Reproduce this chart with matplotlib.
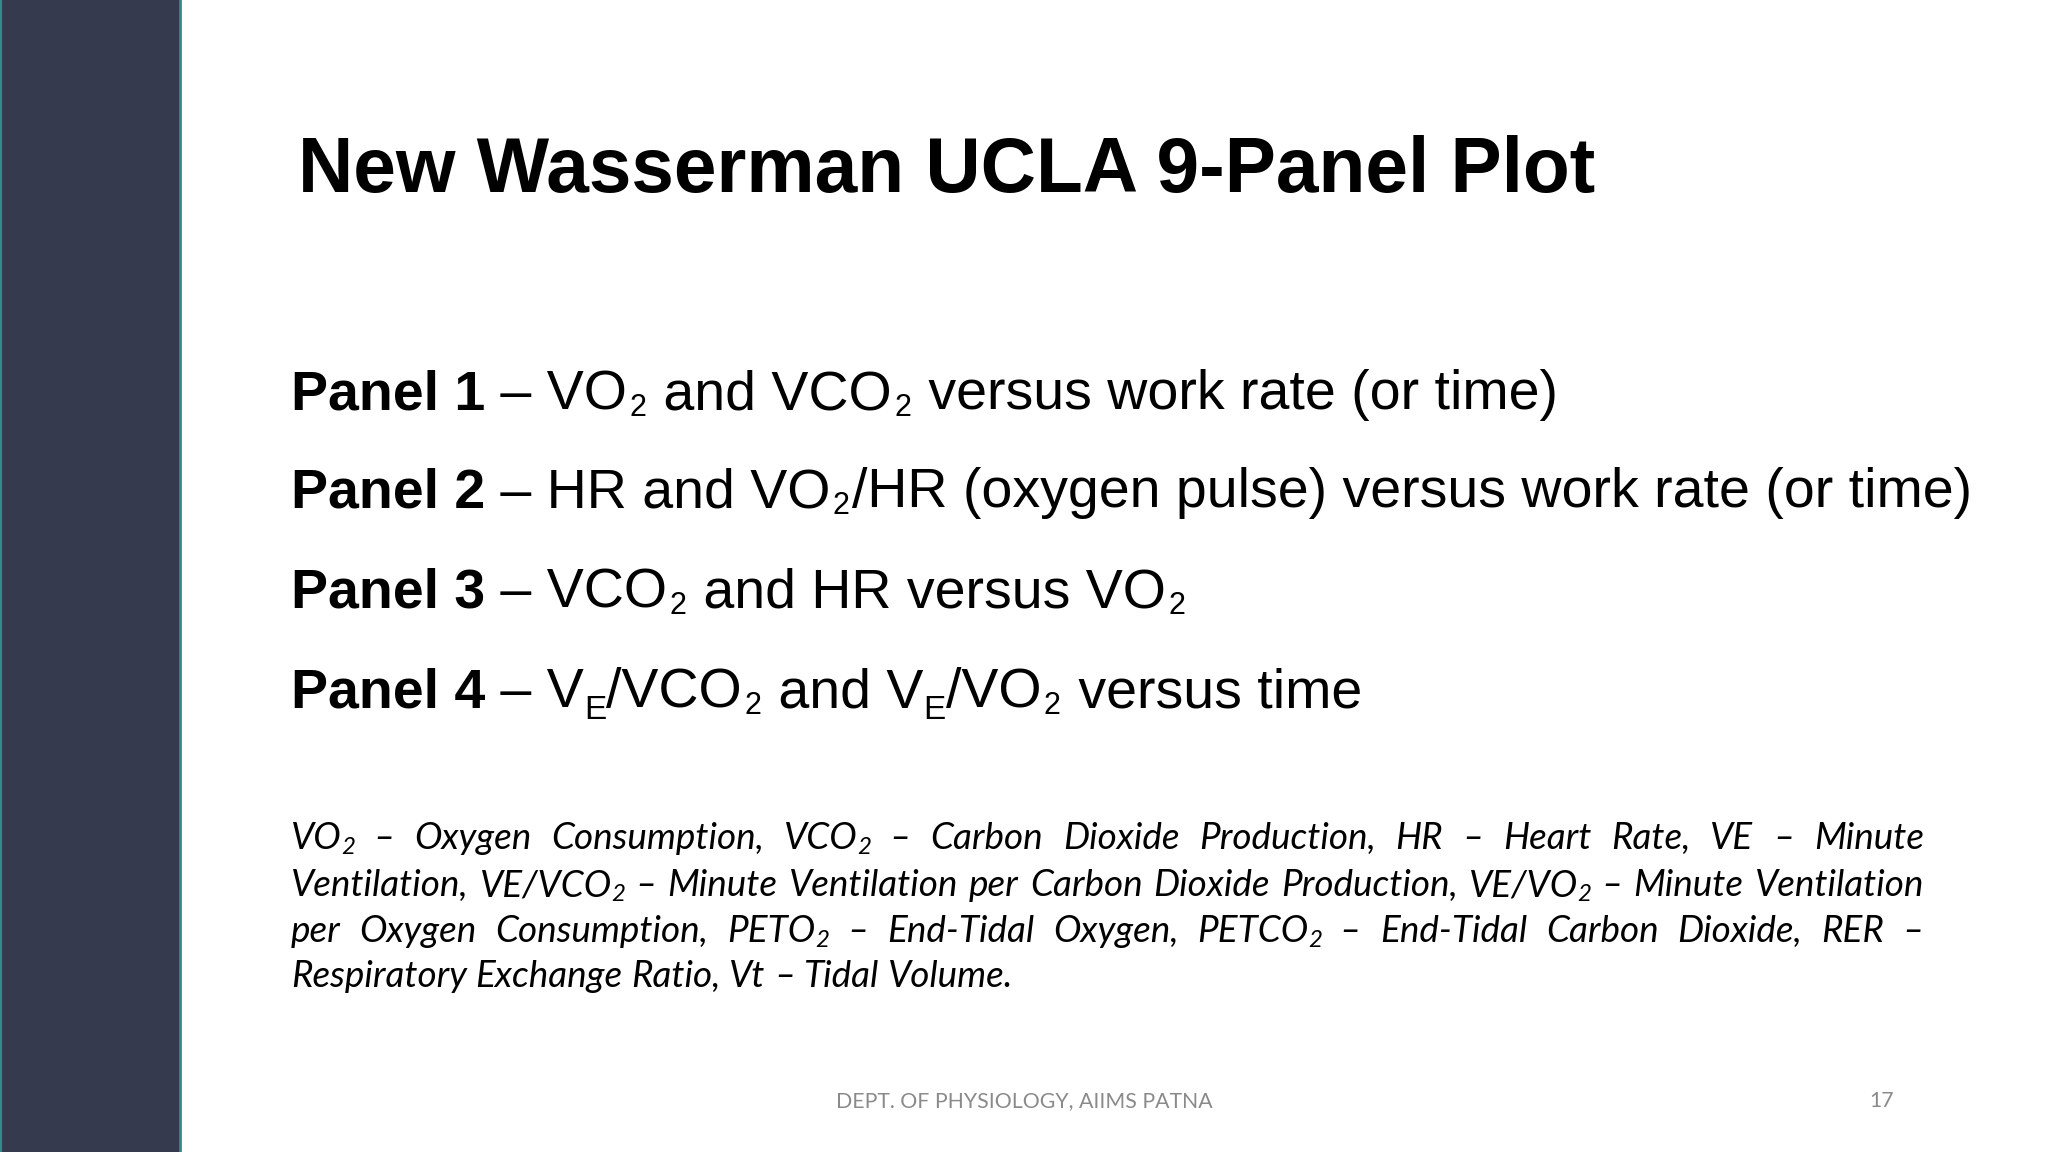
import matplotlib
matplotlib.use("Agg")
import matplotlib.pyplot as plt

# slide content
title = "New Wasserman UCLA 9-Panel Plot"
panel_labels = ["Panel 1", "Panel 2", "Panel 3", "Panel 4"]
panel_texts = [
    " \u2013 VO_2 and VCO_2 versus work rate (or time)",
    " \u2013 HR and VO_2/HR (oxygen pulse) versus work rate (or time)",
    " \u2013 VCO_2 and HR versus VO_2",
    " \u2013 V_E/VCO_2 and V_E/VO_2 versus time",
]
footnote_lines = [
    "VO_2 \u2013 Oxygen Consumption, VCO_2 \u2013 Carbon Dioxide Production, HR \u2013 Heart Rate, VE \u2013 Minute",
    "Ventilation, VE/VCO_2 \u2013 Minute Ventilation per Carbon Dioxide Production, VE/VO_2 \u2013 Minute Ventilation",
    "per Oxygen Consumption, PETO_2 \u2013 End-Tidal Oxygen, PETCO_2 \u2013 End-Tidal Carbon Dioxide, RER \u2013",
    "Respiratory Exchange Ratio, Vt \u2013 Tidal Volume.",
]
footer_text = "DEPT. OF PHYSIOLOGY, AIIMS PATNA"
page_number = "17"

W, H = 2048, 1152
fig = plt.figure(figsize=(W / 100, H / 100), dpi=100)
ax = fig.add_axes([0, 0, 1, 1])
ax.set_xlim(0, W)
ax.set_ylim(H, 0)
ax.axis("off")
renderer = fig.canvas.get_renderer()

# left navy band with thin teal edge
ax.add_patch(plt.Rectangle((0, 0), 181, H, facecolor="#353a4f", edgecolor="none"))
ax.plot([180, 180], [0, H], color="#2f8c86", lw=2)
ax.plot([0.5, 0.5], [0, H], color="#2f8c86", lw=1.5)


def text_width(s, **kw):
    t = ax.text(0, 0, "|" + s + "|", **kw)
    w1 = t.get_window_extent(renderer).width
    t.set_text("||")
    w0 = t.get_window_extent(renderer).width
    t.remove()
    return w1 - w0


def split_sub(s):
    # "VO_2" -> [("VO", False), ("2", True)]
    parts, buf, i = [], "", 0
    while i < len(s):
        if s[i] == "_" and i + 1 < len(s):
            if buf:
                parts.append((buf, False))
                buf = ""
            parts.append((s[i + 1], True))
            i += 2
        else:
            buf += s[i]
            i += 1
    if buf:
        parts.append((buf, False))
    return parts


def draw_runs(x, y, s, size, draw=True, digit_scale=0.55, digit_pad=0.04, **kw):
    px = size * 100 / 72
    for piece, sub in split_sub(s):
        if sub and piece.isalpha():
            fs, drop, pad = size * 0.6, px * 0.22, 0
        elif sub:
            fs, drop, pad = size * digit_scale, px * 0.13, px * digit_pad
        else:
            fs, drop, pad = size, 0, 0
        x += pad
        if draw:
            ax.text(x, y + drop, piece, fontsize=fs, va="baseline", ha="left", **kw)
        x += text_width(piece, fontsize=fs, **kw) + pad
    return x


# title
ax.text(298, 192, title, fontsize=55.2, fontweight="bold",
        family="Liberation Sans", va="baseline", ha="left", color="black")

# panel lines
panel_y = [409, 507, 607, 707]
for lab, txt, y in zip(panel_labels, panel_texts, panel_y):
    x = draw_runs(291, y, lab, 40.0, family="Liberation Sans", fontweight="bold")
    draw_runs(x, y, txt, 40.0, family="Liberation Sans")

# justified italic footnote
fn_kw = dict(family="Lato", style="italic", color="black",
             digit_scale=0.65, digit_pad=-0.02)
fn_size = 26.6
left, right = 291, 1924
fn_y = [849, 896, 942, 987]
space_w = text_width(" ", fontsize=fn_size, family="Lato", style="italic")
for i, (line, y) in enumerate(zip(footnote_lines, fn_y)):
    words = line.split(" ")
    widths = [draw_runs(0, 0, w_, fn_size, draw=False, **fn_kw) for w_ in words]
    if i < len(footnote_lines) - 1:
        gap = (right - left - sum(widths)) / (len(words) - 1)
    else:
        gap = space_w
    x = left
    for w_, ww in zip(words, widths):
        draw_runs(x, y, w_, fn_size, **fn_kw)
        x += ww + gap

# footer
ax.text(1024, 1107, footer_text, fontsize=15.3, family="Lato", color="#8a8a8a",
        va="baseline", ha="center")
ax.text(1894, 1107, page_number, fontsize=15.3, family="Lato", color="#8a8a8a",
        va="baseline", ha="right")

fig.savefig("out.png", dpi=100, facecolor="white")
